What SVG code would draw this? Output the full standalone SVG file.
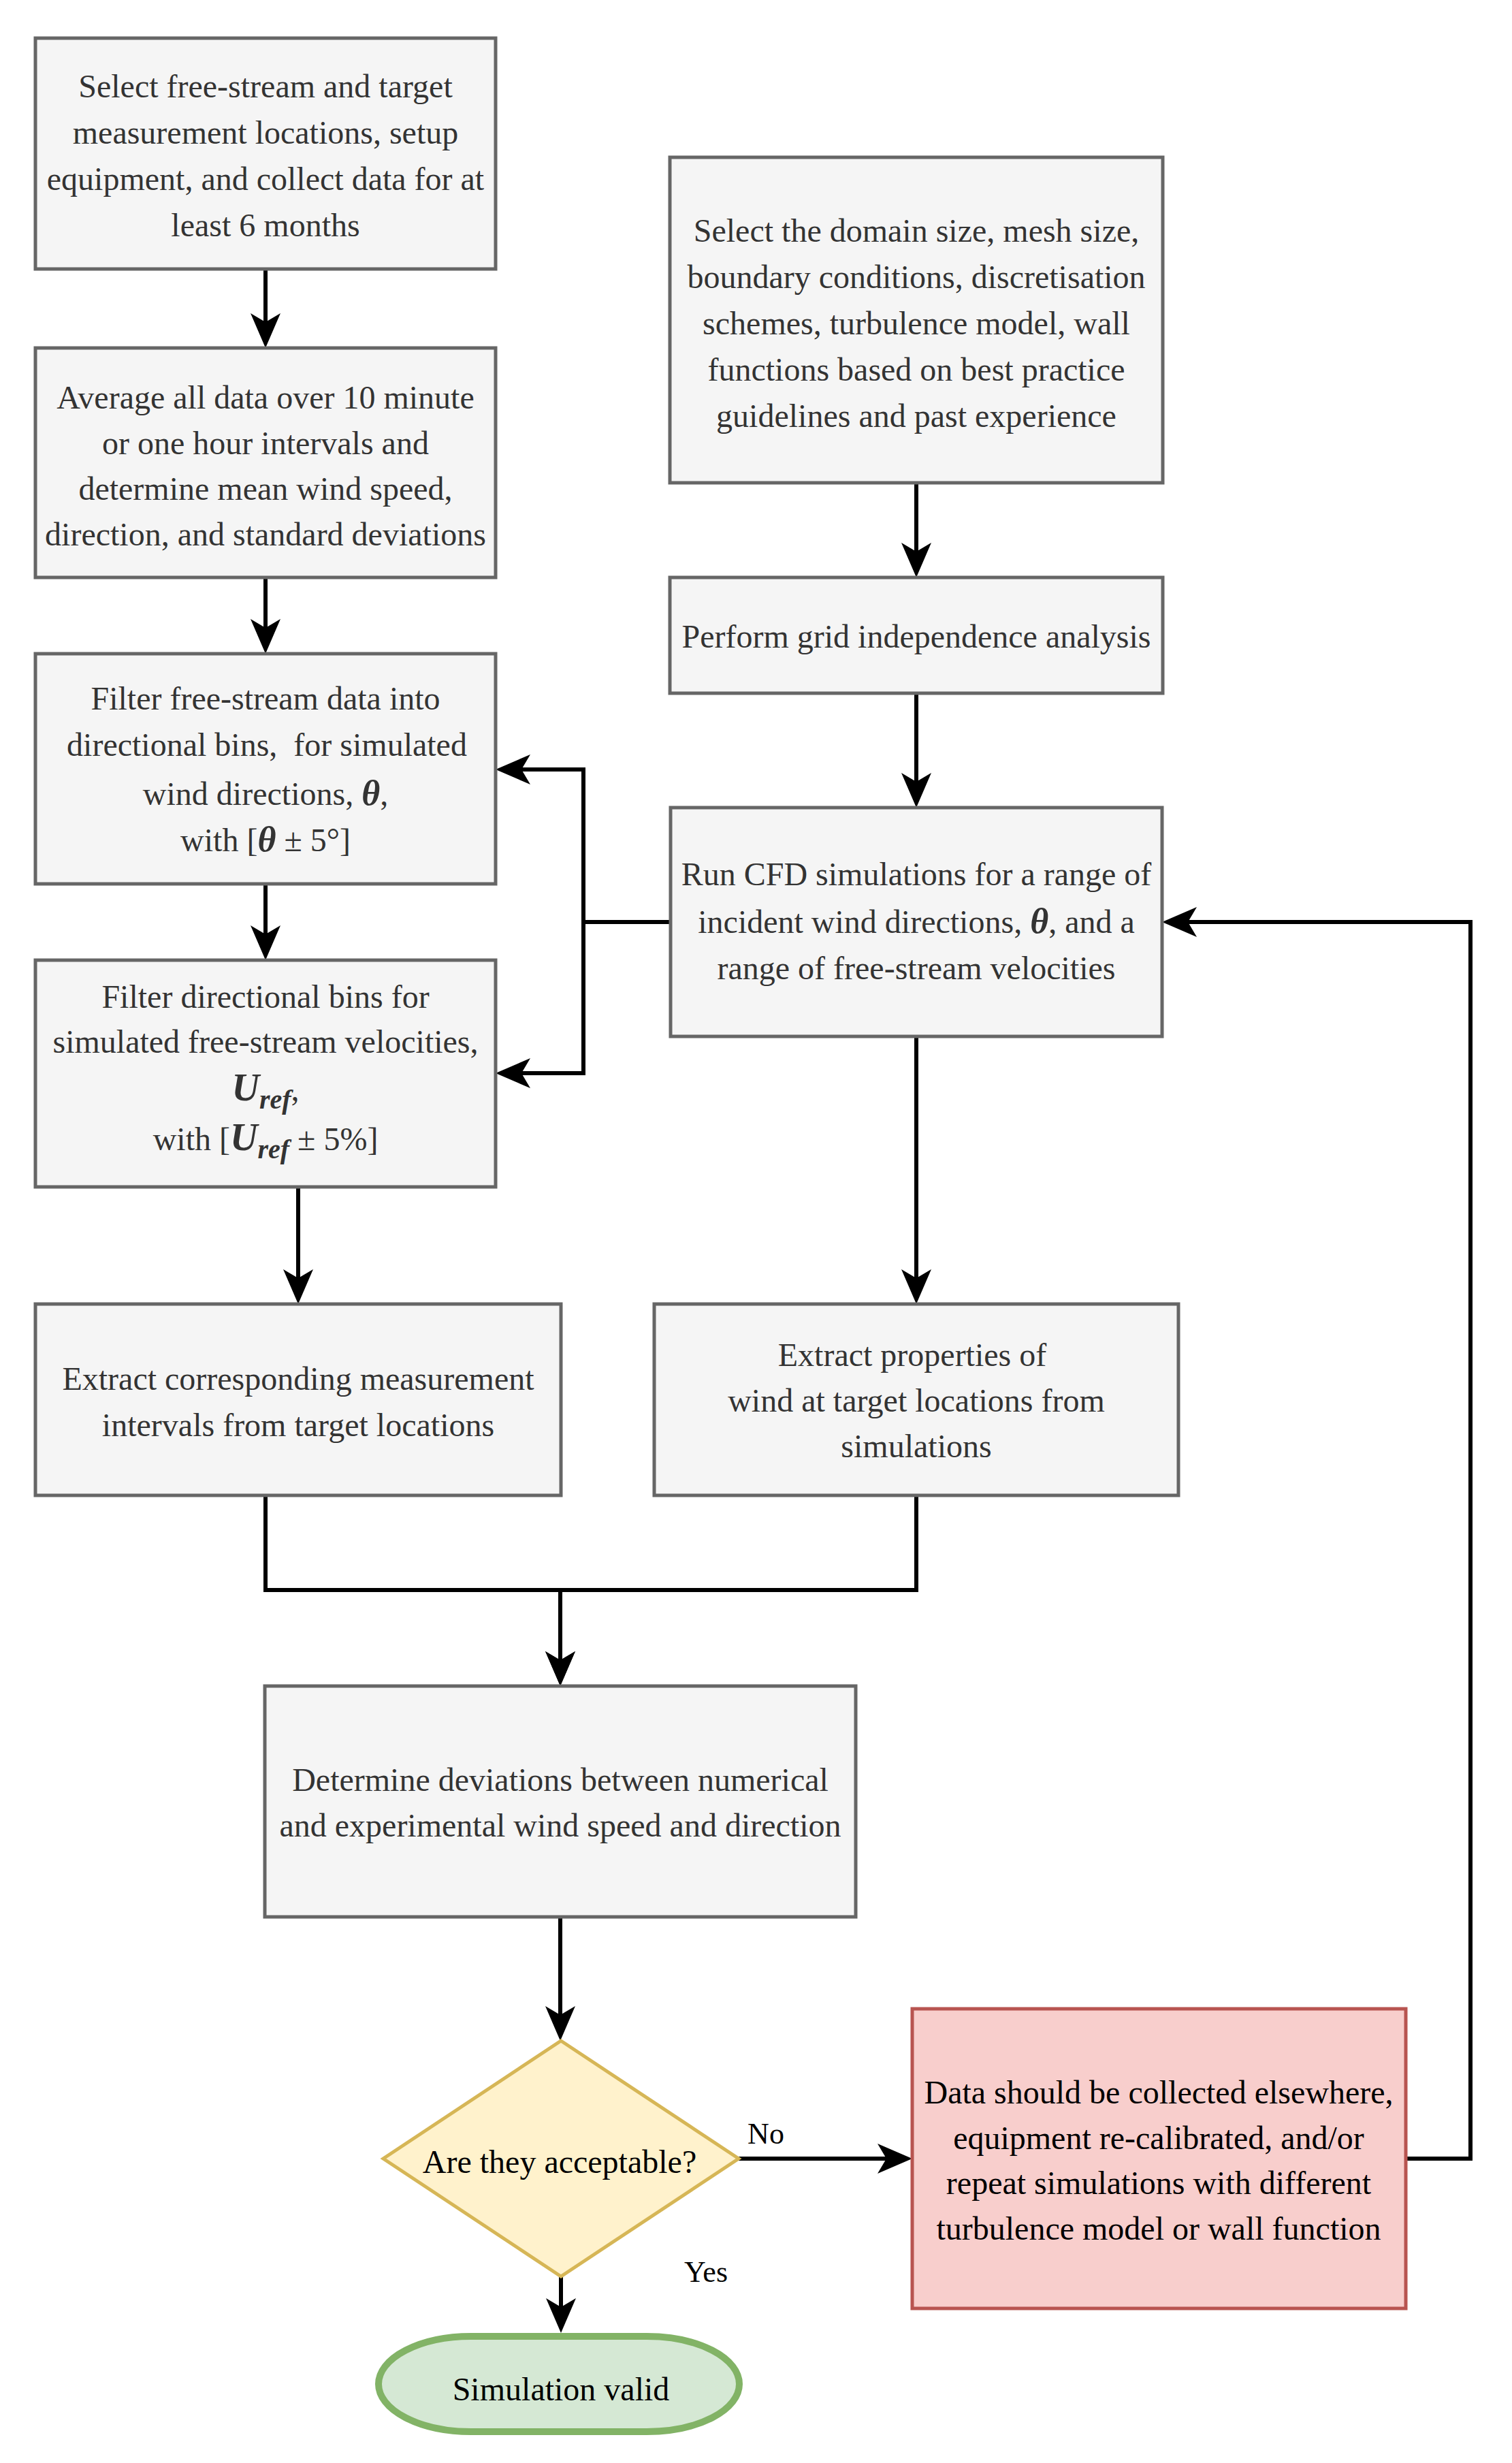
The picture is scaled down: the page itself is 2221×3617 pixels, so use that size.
<svg xmlns="http://www.w3.org/2000/svg" width="2221" height="3617" viewBox="0 0 2221 3617">
<defs>
<style>
.box{fill:#f5f5f5;stroke:#666666;stroke-width:5}
.t{font-family:"Liberation Serif","Times New Roman",serif;font-size:48px;fill:#333333;text-anchor:middle}
.tk{fill:#000000}
.lbl{font-family:"Liberation Serif","Times New Roman",serif;font-size:44px;fill:#000000;text-anchor:middle}
.m{font-weight:bold;font-style:italic}
.edge{fill:none;stroke:#000000;stroke-width:6;stroke-linejoin:miter;marker-end:url(#arr)}
</style>
<marker id="arr" markerUnits="userSpaceOnUse" markerWidth="55" markerHeight="50" viewBox="0 -25 55 50" refX="13" refY="0" orient="auto">
<path d="M0,-22 L51,0 L0,22 L13,0 Z" fill="#000000"/>
</marker>
</defs>
<rect width="2221" height="3617" fill="#ffffff"/>

<g id="connectors">
<path class="edge" d="M390,395 V473"/>
<path class="edge" d="M390,848 V922"/>
<path class="edge" d="M390,1298 V1372"/>
<path class="edge" d="M438,1743 V1877"/>
<path class="edge" d="M1346,709 V810"/>
<path class="edge" d="M1346,1018 V1148"/>
<path class="edge" d="M1346,1522 V1877"/>
<path class="edge" d="M985,1354 H857 V1130 H766"/>
<path class="edge" d="M985,1354 H857 V1576 H766"/>
<path class="edge" d="M390,2196 V2335 H823 V2438"/>
<path class="edge" d="M1346,2196 V2335 H823 V2438"/>
<path class="edge" d="M823,2815 V2959"/>
<path class="edge" d="M824,3343 V3388"/>
<path class="edge" d="M1085,3170 H1302"/>
<path class="edge" d="M2065,3170 H2160 V1354 H1745"/>
<text class="lbl" x="1125" y="3148">No</text>
<text class="lbl" x="1037" y="3351">Yes</text>
</g>

<g id="n1">
<rect class="box" x="52" y="56" width="676" height="339"/>
<text class="t" x="390" y="143">Select free-stream and target</text>
<text class="t" x="390" y="211">measurement locations, setup</text>
<text class="t" x="390" y="279">equipment, and collect data for at</text>
<text class="t" x="390" y="347">least 6 months</text>
</g>

<g id="n2">
<rect class="box" x="52" y="511" width="676" height="337"/>
<text class="t" x="390" y="600">Average all data over 10 minute</text>
<text class="t" x="390" y="667">or one hour intervals and</text>
<text class="t" x="390" y="734">determine mean wind speed,</text>
<text class="t" x="390" y="801">direction, and standard deviations</text>
</g>

<g id="n3">
<rect class="box" x="984" y="231" width="724" height="478"/>
<text class="t" x="1346" y="355">Select the domain size, mesh size,</text>
<text class="t" x="1346" y="423">boundary conditions, discretisation</text>
<text class="t" x="1346" y="491">schemes, turbulence model, wall</text>
<text class="t" x="1346" y="559">functions based on best practice</text>
<text class="t" x="1346" y="627">guidelines and past experience</text>
</g>

<g id="n4">
<rect class="box" x="984" y="848" width="724" height="170"/>
<text class="t" x="1346" y="951">Perform grid independence analysis</text>
</g>

<g id="n5">
<rect class="box" x="52" y="960" width="676" height="338"/>
<text class="t" x="390" y="1042">Filter free-stream data into</text>
<text class="t" x="392" y="1110">directional bins,&#160; for simulated</text>
<text class="t" x="390" y="1182">wind directions, <tspan class="m" font-size="52">θ</tspan>,</text>
<text class="t" x="390" y="1250">with [<tspan class="m" font-size="52">θ</tspan> ±&#160;5°]</text>
</g>

<g id="n6">
<rect class="box" x="52" y="1410" width="676" height="333"/>
<text class="t" x="390" y="1480">Filter directional bins for</text>
<text class="t" x="390" y="1546">simulated free-stream velocities,</text>
<text class="t" x="390" y="1616"><tspan class="m" font-size="56">U</tspan><tspan class="m" font-size="40" dy="12">ref</tspan><tspan dy="-12">,</tspan></text>
<text class="t" x="390" y="1689">with [<tspan class="m" font-size="56">U</tspan><tspan class="m" font-size="40" dy="12">ref</tspan><tspan dy="-12"> ±&#160;5%]</tspan></text>
</g>

<g id="n7">
<rect class="box" x="985" y="1186" width="722" height="336"/>
<text class="t" x="1346" y="1300">Run CFD simulations for a range of</text>
<text class="t" x="1346" y="1370">incident wind directions, <tspan class="m" font-size="52">θ</tspan>, and a</text>
<text class="t" x="1346" y="1438">range of free-stream velocities</text>
</g>

<g id="n8">
<rect class="box" x="961" y="1915" width="770" height="281"/>
<text class="t" x="1340" y="2006">Extract properties of</text>
<text class="t" x="1346" y="2073">wind at target locations from</text>
<text class="t" x="1346" y="2140">simulations</text>
</g>

<g id="n9">
<rect class="box" x="52" y="1915" width="772" height="281"/>
<text class="t" x="438" y="2041">Extract corresponding measurement</text>
<text class="t" x="438" y="2109">intervals from target locations</text>
</g>

<g id="n10">
<rect class="box" x="389" y="2476" width="868" height="339"/>
<text class="t" x="823" y="2630">Determine deviations between numerical</text>
<text class="t" x="823" y="2697">and experimental wind speed and direction</text>
</g>

<g id="decision">
<polygon points="824,2997 1085,3170 824,3343 563,3170" fill="#fff2cc" stroke="#d6b656" stroke-width="5"/>
<text class="t tk" x="822" y="3191">Are they acceptable?</text>
</g>

<g id="retry">
<rect x="1340" y="2950" width="725" height="440" fill="#f8cecc" stroke="#b85450" stroke-width="5"/>
<text class="t tk" x="1702" y="3089">Data should be collected elsewhere,</text>
<text class="t tk" x="1702" y="3156">equipment re-calibrated, and/or</text>
<text class="t tk" x="1702" y="3222">repeat simulations with different</text>
<text class="t tk" x="1702" y="3289">turbulence model or wall function</text>
</g>

<g id="valid">
<rect x="556" y="3431" width="530" height="140" rx="136" ry="70" fill="#d5e8d4" stroke="#82b366" stroke-width="10"/>
<text class="t tk" x="824" y="3525">Simulation valid</text>
</g>
</svg>
